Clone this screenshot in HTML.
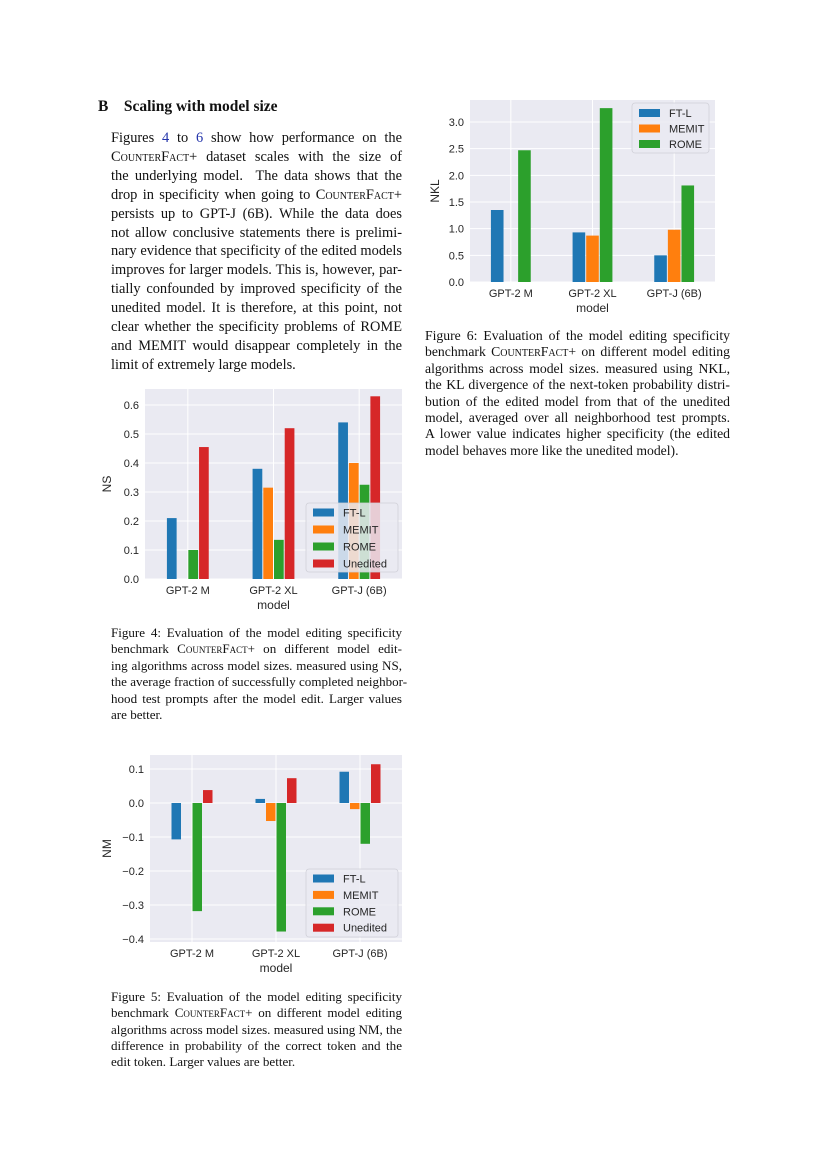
<!DOCTYPE html>
<html><head><meta charset="utf-8">
<style>
body{margin:0;width:827px;height:1169px;background:#fff;position:relative;overflow:hidden;font-family:"Liberation Serif",serif;color:#111}
.l{position:absolute;white-space:nowrap;text-align:justify;text-align-last:justify;line-height:1}
.b{font-size:14.4px}
.c{font-size:13.7px}
.cl{font-size:13.05px}
.sc{font-variant:small-caps}
.ref{color:#2233aa}
svg text{font-family:"Liberation Sans",sans-serif;fill:#262626}
</style></head><body>
<div class="l" style="left:98px;top:99px;font-size:15.5px;font-weight:bold;text-align-last:left">B&nbsp;&nbsp;&nbsp;&nbsp;Scaling with model size</div>
<div id="body-text"></div>
<div id="cap6"></div>
<div id="cap4"></div>
<div id="cap5"></div>
<svg id="charts" width="827" height="1169" style="position:absolute;left:0;top:0"></svg>
<script>
// ---------- Chart data ----------
const categories = ["GPT-2 M","GPT-2 XL","GPT-J (6B)"];
const nklSeries = ["FT-L","MEMIT","ROME"];
const nklFTL = [1.35,0.93,0.50];
const nklMEMIT = [null,0.87,0.98];
const nklROME = [2.47,3.26,1.81];
const nklTicks = [0.0,0.5,1.0,1.5,2.0,2.5,3.0];
const nsSeries = ["FT-L","MEMIT","ROME","Unedited"];
const nsFTL = [0.21,0.38,0.54];
const nsMEMIT = [null,0.315,0.40];
const nsROME = [0.10,0.135,0.325];
const nsUnedited = [0.455,0.52,0.63];
const nsTicks = [0.0,0.1,0.2,0.3,0.4,0.5,0.6];
const nmSeries = ["FT-L","MEMIT","ROME","Unedited"];
const nmFTL = [-0.107,0.012,0.092];
const nmMEMIT = [null,-0.053,-0.018];
const nmROME = [-0.318,-0.378,-0.12];
const nmUnedited = [0.038,0.073,0.114];
const nmTicks = [-0.4,-0.3,-0.2,-0.1,0.0,0.1];
const colors = ["#1f77b4","#ff7f0e","#2ca02c","#d62728"];

const NS="http://www.w3.org/2000/svg";
const svg=document.getElementById('charts');
function mk(tag,attrs,parent){const e=document.createElementNS(NS,tag);for(const k in attrs)e.setAttribute(k,attrs[k]);(parent||svg).appendChild(e);return e;}

function drawChart(o){
  const g=mk('g',{});
  
  
  const y=v=>o.y0-(v-o.vmin)/(o.vmax-o.vmin)*(o.y0-o.y1);
  const spacing=(o.x1-o.x0)/categories.length;
  const xc=i=>o.x0+spacing*(i+0.5);
  const bg=mk('rect',{x:o.x0,y:o.top,width:o.x1-o.x0,height:o.bottom-o.top,fill:'#eaeaf2'},g);
  
  
  o.ticks.forEach(t=>{
    const yy=y(t);
    const gl=mk('line',{x1:o.x0,x2:o.x1,y1:yy,y2:yy,stroke:'#fff','stroke-width':1},g);
    
    
    const tl=mk('text',{x:o.x0-6,y:yy+4,'font-size':11,'text-anchor':'end'},g);
    tl.textContent=(t<0?'\u2212':'')+Math.abs(t).toFixed(1);
    
    
  });
  categories.forEach((c,i)=>{
    const gl=mk('line',{x1:xc(i),x2:xc(i),y1:o.top,y2:o.bottom,stroke:'#fff','stroke-width':1},g);
    
    
    const tl=mk('text',{x:xc(i),y:o.bottom+15,'font-size':11,'text-anchor':'middle'},g);
    tl.textContent=c;
    
    
  });
  const n=o.series.length, w=spacing*0.5/n;
  o.values.forEach((vals,s)=>{
    vals.forEach((v,i)=>{
      if(v===null)return;
      const cx=xc(i)+(s-(n-1)/2)*w;
      const ya=y(v), yb=y(0);
      const r=mk('rect',{x:cx-w/2+0.5,y:Math.min(ya,yb),width:w-1,height:Math.abs(yb-ya),fill:colors[s]},g);
      
      
    });
  });
  const xl=mk('text',{x:(o.x0+o.x1)/2,y:o.bottom+30,'font-size':12,'text-anchor':'middle'},g);
  xl.textContent='model';
  
  
  const yl=mk('text',{x:o.ylx,y:(o.top+o.bottom)/2,'font-size':12,'text-anchor':'middle',transform:`rotate(-90 ${o.ylx} ${(o.top+o.bottom)/2})`},g);
  yl.textContent=o.ylabel;
  
  
  const L=o.leg;
  const lb=mk('rect',{x:L.x,y:L.y,width:L.w,height:L.h,rx:3,fill:'#eaeaf2','fill-opacity':0.85,stroke:'#d0d0d8','stroke-width':0.8},g);
  
  
  o.series.forEach((s,k)=>{
    const ry=L.y+L.first+k*L.step;
    const p=mk('rect',{x:L.x+7,y:ry-4,width:21,height:8,fill:colors[k]},g);
    
    
    const t=mk('text',{x:L.x+37,y:ry+4,'font-size':11},g);
    t.textContent=s;
    
    
  });
}
drawChart({name:'nkl-chart',x0:470,x1:715,top:100,bottom:282,y0:282,y1:122,vmin:0,vmax:3.0,ticks:nklTicks,
  series:nklSeries,values:[nklFTL,nklMEMIT,nklROME],ylabel:'NKL',ylx:439,leg:{x:632,y:103,w:77,h:50,first:10,step:15.5}});
drawChart({name:'ns-chart',x0:145,x1:402,top:389,bottom:579,y0:579,y1:405,vmin:0,vmax:0.6,ticks:nsTicks,
  series:nsSeries,values:[nsFTL,nsMEMIT,nsROME,nsUnedited],ylabel:'NS',ylx:111,leg:{x:306,y:503,w:92,h:69,first:9.5,step:17}});
drawChart({name:'nm-chart',x0:150,x1:402,top:755,bottom:942,y0:803,y1:769,vmin:0,vmax:0.1,ticks:nmTicks,
  series:nmSeries,values:[nmFTL,nmMEMIT,nmROME,nmUnedited],ylabel:'NM',ylx:111,leg:{x:306,y:869,w:92,h:68,first:9.5,step:16.4}});

// ---------- Text ----------
function lines(id,arr,left,width,top,step,cls){
  const host=document.getElementById(id);
  arr.forEach((h,i)=>{
    const d=document.createElement('div');
    d.className='l '+cls;
    d.style.left=left+'px';d.style.width=width+'px';d.style.top=(top+i*step)+'px';
    if(i===arr.length-1)d.style.textAlignLast='left';
    d.innerHTML=h;
    
    
    host.appendChild(d);
  });
}
const CF='<span class="sc">CounterFact+</span>';
lines('body-text',[
 'Figures <span class="ref">4</span> to <span class="ref">6</span> show how performance on the',
 CF+' dataset scales with the size of',
 'the underlying model. &nbsp;The data shows that the',
 'drop in specificity when going to '+CF,
 'persists up to GPT-J (6B). While the data does',
 'not allow conclusive statements there is prelimi-',
 'nary evidence that specificity of the edited models',
 'improves for larger models. This is, however, par-',
 'tially confounded by improved specificity of the',
 'unedited model. It is therefore, at this point, not',
 'clear whether the specificity problems of ROME',
 'and MEMIT would disappear completely in the',
 'limit of extremely large models.'],111,291,131,18.9,'b');
lines('cap6',[
 'Figure 6: Evaluation of the model editing specificity',
 'benchmark '+CF+' on different model editing',
 'algorithms across model sizes. measured using NKL,',
 'the KL divergence of the next-token probability distri-',
 'bution of the edited model from that of the unedited',
 'model, averaged over all neighborhood test prompts.',
 'A lower value indicates higher specificity (the edited',
 'model behaves more like the unedited model).'],425,305,329,16.4,'c');
lines('cap4',[
 'Figure 4: Evaluation of the model editing specificity',
 'benchmark '+CF+' on different model edit-',
 'ing algorithms across model sizes. measured using NS,',
 'the average fraction of successfully completed neighbor-',
 'hood test prompts after the model edit. Larger values',
 'are better.'],111,291,626,16.4,'cl');
lines('cap5',[
 'Figure 5: Evaluation of the model editing specificity',
 'benchmark '+CF+' on different model editing',
 'algorithms across model sizes. measured using NM, the',
 'difference in probability of the correct token and the',
 'edit token. Larger values are better.'],111,291,990,16.3,'cl');
</script>
</body></html>
